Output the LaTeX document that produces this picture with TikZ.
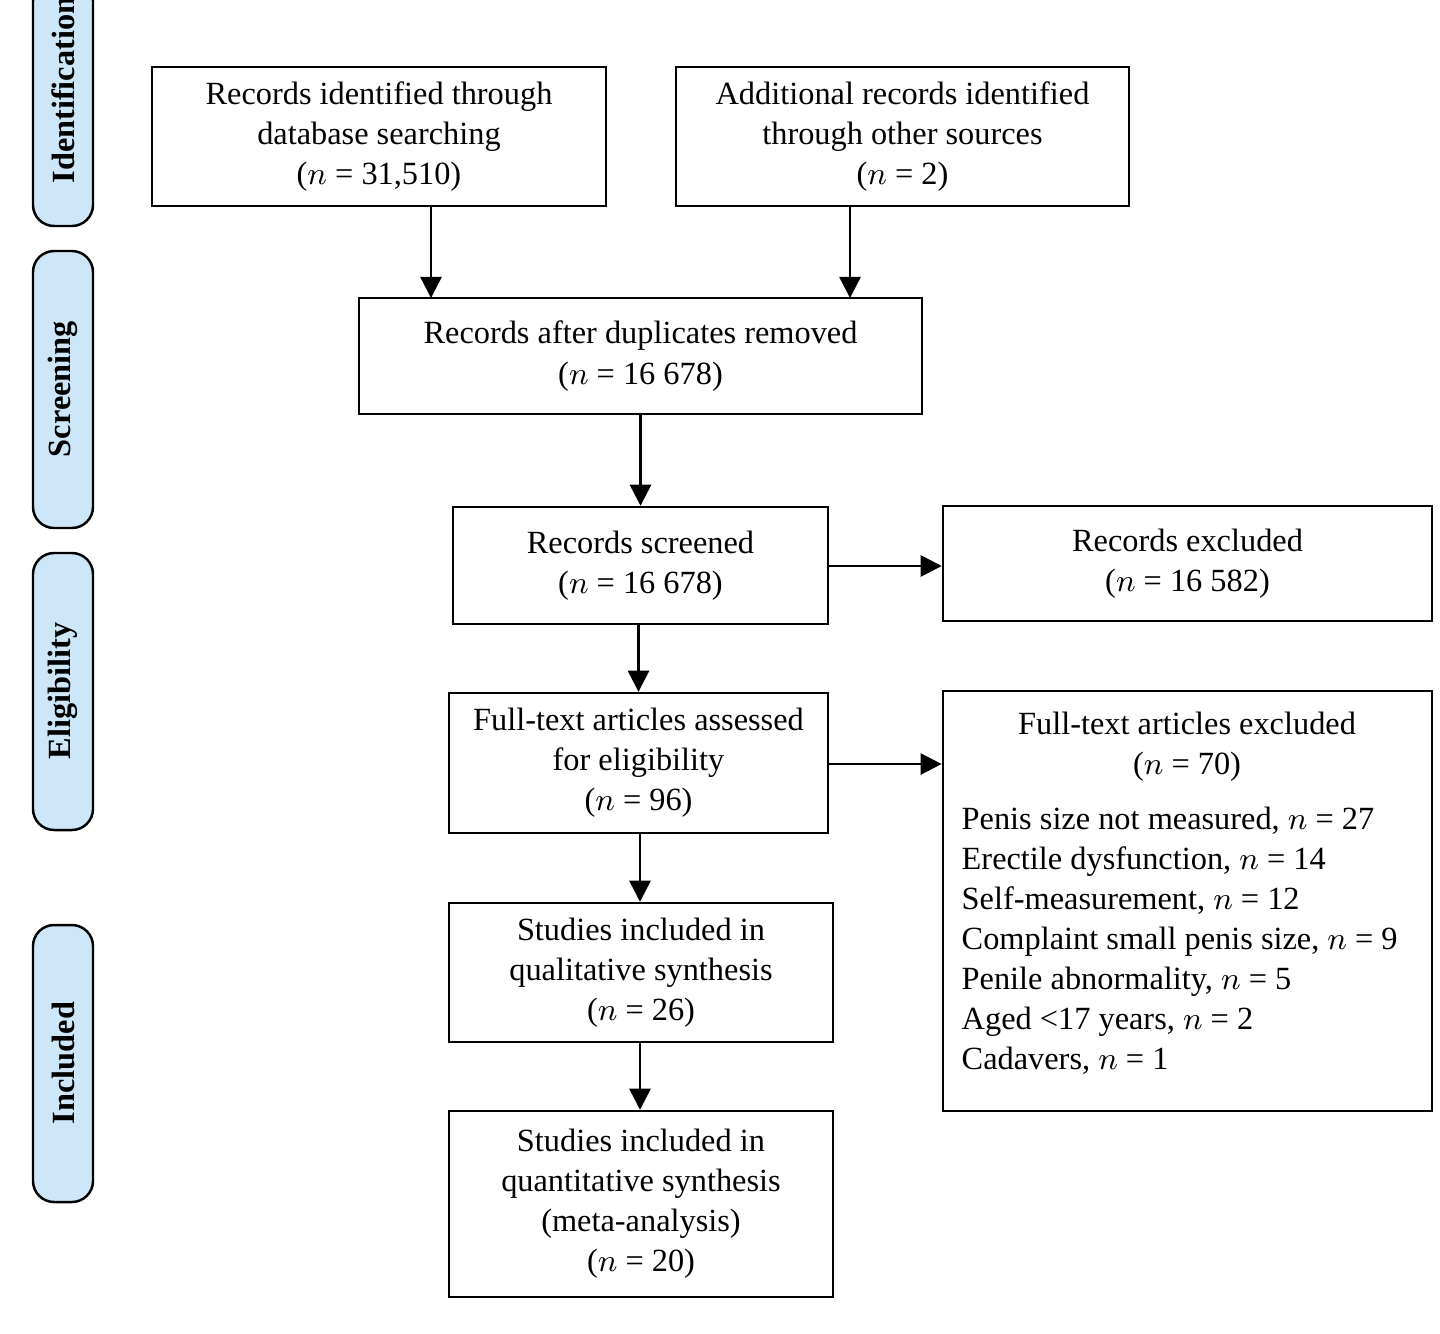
\documentclass[tikz,border=0pt]{standalone}
\usepackage{fontspec}
\setmainfont{Liberation Serif}
\usetikzlibrary{arrows.meta}
\definecolor{tabblue}{HTML}{CDE7F8}
\begin{document}
\begin{tikzpicture}[x=0.01cm,y=-0.01cm,
  box/.style={draw,line width=0.7pt,inner sep=0pt,align=center,font=\fontsize{9.2}{11.4}\selectfont},
  tab/.style={draw,line width=0.7pt,fill=tabblue,rounded corners=6pt},
  tabtext/.style={rotate=90,font=\fontsize{9.2}{11}\selectfont\bfseries},
  arr/.style={-{Triangle[length=6pt,width=6pt]},line width=0.7pt}]
\useasboundingbox (0,0) rectangle (1440,1333);
% tabs
\draw[tab] (33,-20) rectangle (93,226);
\node[tabtext] (t1) at (63,90) {Identification};
\draw[tab] (33,251) rectangle (93,528);
\node[tabtext] (t2) at (63,389) {Screening};
\draw[tab] (33,553) rectangle (93,830);
\node[tabtext] (t3) at (63,691) {Eligibility};
\draw[tab] (33,925) rectangle (93,1202);
\node[tabtext] (t4) at (63,1063) {Included};
% boxes
\newcommand{\bx}[6]{\node[box,minimum width=#4*0.01cm-#2*0.01cm,minimum height=#5*0.01cm-#3*0.01cm] (#1) at ({(#2+#4)/2},{(#3+#5)/2}) {#6};}
\bx{A}{152}{67}{606}{206}{Records identified through\\database searching\\($n$ = 31,510)}
\bx{B}{676}{67}{1129}{206}{Additional records identified\\through other sources\\($n$ = 2)}
\bx{C}{359}{298}{922}{414}{Records after duplicates removed\\($n$ = 16 678)}
\bx{D}{453}{507}{828}{624}{Records screened\\($n$ = 16 678)}
\bx{E}{943}{506}{1432}{621}{Records excluded\\($n$ = 16 582)}
\bx{F}{449}{693}{828}{833}{Full-text articles assessed\\for eligibility\\($n$ = 96)}
\node[draw,line width=0.7pt,minimum width=4.89cm,minimum height=4.2cm] (G) at (1187.5,901) {};
\node[font=\fontsize{9.2}{11.4}\selectfont,align=center] (G1) at (1187,747) {Full-text articles excluded\\($n$ = 70)};
\node[font=\fontsize{9.2}{11.4}\selectfont,align=left,anchor=north west,inner sep=0pt] (G2) at (961,806) {Penis size not measured, $n$ = 27\\Erectile dysfunction, $n$ = 14\\Self-measurement, $n$ = 12\\Complaint small penis size, $n$ = 9\\Penile abnormality, $n$ = 5\\Aged <17 years, $n$ = 2\\Cadavers, $n$ = 1};
\bx{H}{449}{903}{833}{1042}{Studies included in\\qualitative synthesis\\($n$ = 26)}
\bx{I}{449}{1111}{833}{1297}{Studies included in\\quantitative synthesis\\(meta-analysis)\\($n$ = 20)}
% arrows
\coordinate (c1) at (431,298); \coordinate (c2) at (850,298);
\draw[arr] (A.south -| c1) -- (c1);
\draw[arr] (B.south -| c2) -- (c2);
\draw[arr] (C.south -| D.north) -- (D.north);
\draw[arr] (D.east |- 0,566) -- (E.west |- 0,566);
\draw[arr] (D.south -| F.north) -- (F.north);
\draw[arr] (F.east |- 0,764) -- (G.west |- 0,764);
\draw[arr] (F.south -| 640,0) -- (H.north -| 640,0);
\draw[arr] (H.south -| 640,0) -- (I.north -| 640,0);
\end{tikzpicture}
\end{document}
